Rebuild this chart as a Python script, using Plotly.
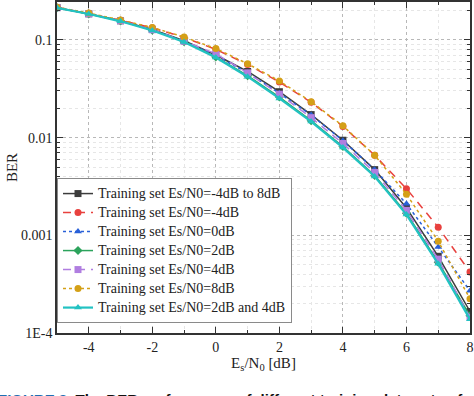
import plotly.graph_objects as go

snr = [-5, -4, -3, -2, -1, 0, 1, 2, 3, 4, 5, 6, 7, 8]

ber_all = [0.214, 0.185, 0.157, 0.128, 0.098, 0.070, 0.0475, 0.0295, 0.0172, 0.0094, 0.0047, 0.0019, 0.00061, 0.000166]
ber_m4 = [0.216, 0.187, 0.159, 0.133, 0.106, 0.080, 0.056, 0.037, 0.0230, 0.0130, 0.0066, 0.0030, 0.00121, 0.00042]
ber_0 = [0.214, 0.185, 0.157, 0.127, 0.097, 0.069, 0.046, 0.0285, 0.0170, 0.0093, 0.0047, 0.0021, 0.00076, 0.00027]
ber_2 = [0.213, 0.184, 0.156, 0.126, 0.096, 0.067, 0.043, 0.026, 0.0149, 0.0081, 0.0041, 0.00168, 0.00053, 0.000150]
ber_4 = [0.214, 0.185, 0.157, 0.127, 0.097, 0.072, 0.046, 0.0278, 0.0160, 0.0087, 0.0044, 0.0018, 0.00057, 0.000145]
ber_8 = [0.216, 0.188, 0.160, 0.134, 0.107, 0.0815, 0.057, 0.038, 0.0233, 0.0132, 0.0066, 0.00263, 0.00087, 0.000224]
ber_24 = [0.213, 0.184, 0.155, 0.125, 0.095, 0.066, 0.042, 0.0252, 0.0146, 0.0079, 0.0040, 0.00163, 0.00051, 0.000138]

names = [
    "Training set Es/N0=-4dB to 8dB",
    "Training set Es/N0=-4dB",
    "Training set Es/N0=0dB",
    "Training set Es/N0=2dB",
    "Training set Es/N0=4dB",
    "Training set Es/N0=8dB",
    "Training set Es/N0=2dB and 4dB",
]
series = [ber_all, ber_m4, ber_0, ber_2, ber_4, ber_8, ber_24]
colors = ["#3c3c3c", "#e8413e", "#2860d8", "#2ca35c", "#b07ee0", "#d4a017", "#22c2c2"]
symbols = ["square", "circle", "triangle-up", "diamond", "square", "circle", "triangle-up"]
dashes = ["solid", "8px,6px", "3px,3px", "solid", "8px,6px", "3px,3px", "solid"]
widths = [1.5, 1.5, 1.5, 1.5, 1.5, 1.5, 2.2]

x_ticks = [-4, -2, 0, 2, 4, 6, 8]
x_ticktext = ["-4", "-2", "0", "2", "4", "6", "8"]
y_ticks = [1e-4, 1e-3, 1e-2, 1e-1]
y_ticktext = ["1E-4", "0.001", "0.01", "0.1"]
y_minor = [m * d for d in [1e-4, 1e-3, 1e-2, 1e-1] for m in range(2, 10)]

caption = ("<b><span style='color:#1f6fb2'>FIGURE 8.</span> "
           "The BER performance of different training data sets of</b>")

fig = go.Figure()
for name, ys, c, s, d, w in zip(names, series, colors, symbols, dashes, widths):
    fig.add_trace(go.Scatter(
        x=snr, y=ys, name="<span style='font-size:14px'>" + name + "</span>",
        mode="lines+markers",
        line=dict(color=c, dash=d, width=w),
        marker=dict(symbol=s, size=7, color=c),
    ))

axis_common = dict(
    showline=True, linecolor="#333333", linewidth=1.5, mirror="allticks",
    ticks="inside", ticklen=6, tickcolor="#333333", tickwidth=1.2,
    tickfont=dict(family="Liberation Serif", size=14, color="#222222"),
    zeroline=False,
)

fig.update_xaxes(
    range=[-5, 8], tickmode="array", tickvals=x_ticks, ticktext=x_ticktext,
    showgrid=True, gridcolor="#b8b8b8", griddash="dot", gridwidth=1,
    minor=dict(tickmode="linear", tick0=-5, dtick=1, ticks="inside", ticklen=3,
               tickcolor="#333333", showgrid=True, gridcolor="#e6e6e6", gridwidth=1),
    title=dict(text="E<sub>s</sub>/N<sub>0</sub> [dB]",
               font=dict(family="Liberation Serif", size=15, color="#222222"),
               standoff=4),
    **axis_common,
)
fig.update_yaxes(
    type="log", range=[-4, -0.612],
    tickmode="array", tickvals=y_ticks, ticktext=y_ticktext,
    showgrid=True, gridcolor="#b8b8b8", griddash="dot", gridwidth=1,
    minor=dict(tickmode="array", tickvals=y_minor, ticks="inside", ticklen=3,
               tickcolor="#333333", showgrid=True, gridcolor="#e6e6e6", gridwidth=1),
    title=dict(text="BER", font=dict(family="Liberation Serif", size=15, color="#222222"),
               standoff=0),
    **axis_common,
)

fig.add_annotation(
    xref="paper", yref="paper", x=-0.148, y=-0.168, xanchor="left", yanchor="top",
    text=caption, showarrow=False,
    font=dict(family="Liberation Sans", size=15, color="#111111"),
)

fig.update_layout(
    width=474, height=396,
    margin=dict(l=57, r=4, t=0, b=63),
    paper_bgcolor="white", plot_bgcolor="white",
    showlegend=True,
    legend=dict(
        x=0.0, y=0.03, xanchor="left", yanchor="bottom",
        bgcolor="white", bordercolor="#8a8a8a", borderwidth=1,
        font=dict(family="Liberation Serif", size=12, color="#222222"),
        tracegroupgap=0, itemwidth=30,
    ),
)

fig.write_html("out.html", config={"displayModeBar": False},
               post_script="document.body.style.margin='0';document.body.style.overflow='hidden';")
